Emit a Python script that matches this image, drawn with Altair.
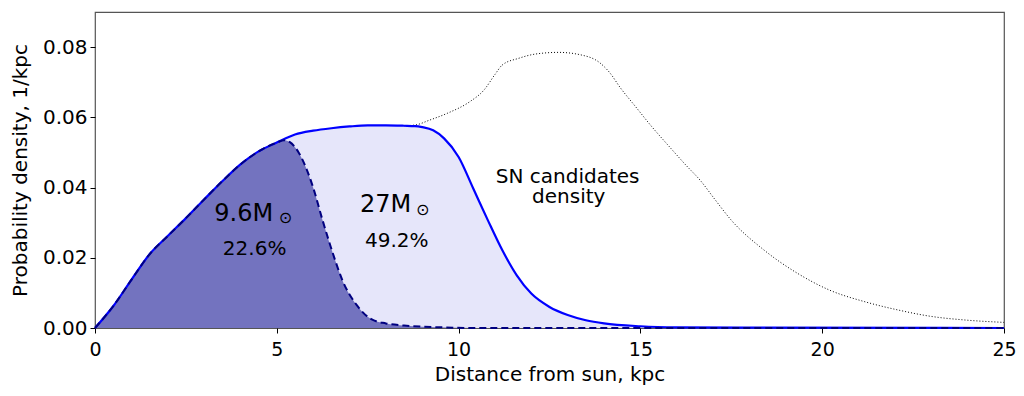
import altair as alt
import pandas as pd

# Shared rising part (both mass curves and SN density coincide)
x_rise = [0.0, 0.5, 1.0, 1.5, 2.0, 2.5, 3.0, 3.5, 4.0, 4.5, 5.0]
y_rise = [0.0, 0.0062, 0.0137, 0.0210, 0.0262, 0.0313, 0.0366, 0.0418, 0.0466, 0.0503, 0.0528]

# 27 Msun curve (after x=5)
x_27 = [5.5, 6.0, 6.5, 7.0, 7.5, 8.0, 8.5, 8.8, 9.0, 9.3, 9.6, 10.0, 10.4, 10.8, 11.2,
        11.6, 12.0, 12.5, 13.0, 13.5, 14.0, 15.0, 16.0, 18.0, 25.0]
y_27 = [0.0551, 0.0562, 0.0569, 0.0574, 0.0577, 0.0577, 0.0576, 0.0575, 0.0572, 0.0563,
        0.0540, 0.0487, 0.0398, 0.0308, 0.0222, 0.0150, 0.0098, 0.0060, 0.0037, 0.0022,
        0.0013, 0.0005, 0.0002, 0.0001, 0.0]

# 9.6 Msun curve (after x=5)
x_96 = [5.2, 5.35, 5.6, 6.0, 6.25, 6.55, 6.8, 7.2, 7.6, 8.0, 8.5, 9.5, 10.5, 25.0]
y_96 = [0.0535, 0.0530, 0.0500, 0.0400, 0.0310, 0.0210, 0.0137, 0.0065, 0.0025, 0.0013,
        0.0007, 0.0002, 0.0, 0.0]

# SN candidates density (where it departs from the 27 Msun curve)
x_sn = [8.5, 8.8, 9.2, 9.7, 10.3, 10.7, 11.0, 11.2, 11.65, 12.1, 12.75, 13.4, 13.85,
        14.15, 14.45, 14.87, 15.3, 15.8, 16.25, 16.65, 17.05, 17.5, 18.4, 19.3, 20.2,
        21.2, 22.1, 23.0, 23.9, 25.0]
y_sn = [0.0576, 0.0578, 0.0592, 0.0612, 0.0644, 0.0678, 0.0722, 0.0749, 0.0768, 0.0780,
        0.0785, 0.0777, 0.0758, 0.0728, 0.0684, 0.0630, 0.0575, 0.0516, 0.0464, 0.0420,
        0.0366, 0.0307, 0.0222, 0.0157, 0.0108, 0.0074, 0.0051, 0.0033, 0.0023, 0.0016]

# Annotations
big_text = ["9.6M", "27M"]
big_x = [4.09, 7.99]
big_y = [0.0305, 0.0330]
sun_x = [5.24, 9.01]
sun_y = [0.0313, 0.0336]
pct_text = ["22.6%", "49.2%"]
pct_x = [4.39, 8.30]
pct_y = [0.0208, 0.0231]
sn_text = ["SN candidates", "density"]
sn_x = [13.0, 13.03]
sn_y = [0.0413, 0.0357]

df27 = pd.DataFrame({"x": x_rise + x_27, "y": y_rise + y_27})
df96 = pd.DataFrame({"x": x_rise + x_96, "y": y_rise + y_96})
dfsn = pd.DataFrame({"x": x_sn, "y": y_sn})
dfbig = pd.DataFrame({"x": big_x, "y": big_y, "t": big_text})
dfsun = pd.DataFrame({"x": sun_x, "y": sun_y, "t": ["⊙", "⊙"]})
dfpct = pd.DataFrame({"x": pct_x, "y": pct_y, "t": pct_text})
dfsn_t = pd.DataFrame({"x": sn_x, "y": sn_y, "t": sn_text})

FONT = "DejaVu Sans"

xs = alt.Scale(domain=[0, 25], nice=False, zero=False)
ys = alt.Scale(domain=[0, 0.09], nice=False)

xenc = alt.X("x:Q", scale=xs, title="Distance from sun, kpc",
             axis=alt.Axis(values=[0, 5, 10, 15, 20, 25], format="d", grid=False,
                           domain=False, tickColor="black", tickSize=5, labelPadding=7,
                           labelFontSize=19, titleFontSize=20, labelFont=FONT, titleFont=FONT,
                           labelColor="black", titleColor="black", titleFontWeight="normal",
                           titlePadding=5, labelFlush=False))
yenc = alt.Y("y:Q", scale=ys, title="Probability density, 1/kpc",
             axis=alt.Axis(values=[0, 0.02, 0.04, 0.06, 0.08], format=".2f", grid=False,
                           domain=False, tickColor="black", tickSize=5, labelPadding=3,
                           labelFontSize=20, titleFontSize=20, labelFont=FONT, titleFont=FONT,
                           labelColor="black", titleColor="black", titleFontWeight="normal",
                           titlePadding=12, labelFlush=False))

light = alt.Chart(df27).mark_area(color="#E6E6FA", interpolate="monotone").encode(x=xenc, y=yenc)
dark = alt.Chart(df96).mark_area(color="#7373BF", interpolate="monotone").encode(x="x:Q", y="y:Q")
dotted = alt.Chart(dfsn).mark_line(color="black", strokeWidth=1, strokeDash=[1, 2],
                                   interpolate="monotone").encode(x="x:Q", y="y:Q")
blue = alt.Chart(df27).mark_line(color="#0000FF", strokeWidth=2.2,
                                 interpolate="monotone").encode(x="x:Q", y="y:Q")
dashed = alt.Chart(df96).mark_line(color="#000080", strokeWidth=2, strokeDash=[7, 4],
                                   interpolate="monotone").encode(x="x:Q", y="y:Q")

big = alt.Chart(dfbig).mark_text(font=FONT, fontSize=24, color="black", align="center",
                                 baseline="alphabetic").encode(x="x:Q", y="y:Q", text="t:N")
sun = alt.Chart(dfsun).mark_text(font=FONT, fontSize=16, color="black", align="center",
                                 baseline="middle").encode(x="x:Q", y="y:Q", text="t:N")
pct = alt.Chart(dfpct).mark_text(font=FONT, fontSize=20, color="black", align="center",
                                 baseline="alphabetic").encode(x="x:Q", y="y:Q", text="t:N")
snt = alt.Chart(dfsn_t).mark_text(font=FONT, fontSize=20, color="black", align="center",
                                  baseline="alphabetic").encode(x="x:Q", y="y:Q", text="t:N")

chart = alt.layer(light, dark, dotted, blue, dashed, big, sun, pct, snt).properties(
    width=909, height=316,
    autosize=alt.AutoSizeParams(type="none"),
    padding={"left": 87, "top": 4, "right": 12, "bottom": 60},
    background="white",
).configure_view(stroke="#555555", strokeWidth=1.2)

chart.save("out.html", embed_options={"renderer": "svg", "actions": False})
